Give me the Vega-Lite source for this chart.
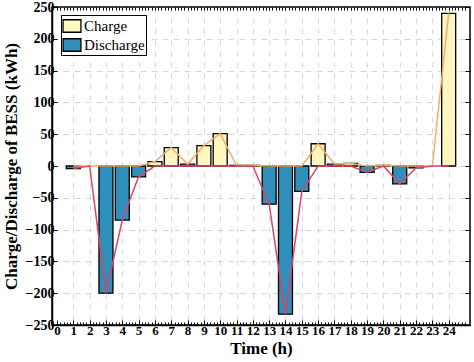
{
  "$schema": "https://vega.github.io/schema/vega-lite/v6.json",
  "width": 418,
  "height": 318,
  "autosize": {"type": "none"},
  "padding": {"left": 52, "top": 7, "right": 4, "bottom": 37},
  "background": "white",
  "config": {
    "view": {"stroke": "black", "strokeWidth": 1.5},
    "font": "Liberation Serif"
  },
  "data": {
    "values": [
      {"hour": 1, "Charge": 0, "Discharge": -4},
      {"hour": 2, "Charge": 0, "Discharge": 0},
      {"hour": 3, "Charge": 0, "Discharge": -200},
      {"hour": 4, "Charge": 0, "Discharge": -85},
      {"hour": 5, "Charge": 0, "Discharge": -17},
      {"hour": 6, "Charge": 7, "Discharge": 0},
      {"hour": 7, "Charge": 29, "Discharge": 0},
      {"hour": 8, "Charge": 3, "Discharge": 0},
      {"hour": 9, "Charge": 32, "Discharge": 0},
      {"hour": 10, "Charge": 51, "Discharge": 0},
      {"hour": 11, "Charge": 1, "Discharge": 0},
      {"hour": 12, "Charge": 1, "Discharge": 0},
      {"hour": 13, "Charge": 0, "Discharge": -60},
      {"hour": 14, "Charge": 0, "Discharge": -233},
      {"hour": 15, "Charge": 0, "Discharge": -40},
      {"hour": 16, "Charge": 35, "Discharge": 0},
      {"hour": 17, "Charge": 3, "Discharge": 0},
      {"hour": 18, "Charge": 4, "Discharge": 0},
      {"hour": 19, "Charge": 0, "Discharge": -10},
      {"hour": 20, "Charge": 1, "Discharge": 0},
      {"hour": 21, "Charge": 0, "Discharge": -28},
      {"hour": 22, "Charge": 0, "Discharge": -3},
      {"hour": 23, "Charge": 0, "Discharge": 0},
      {"hour": 24, "Charge": 240, "Discharge": 0}
    ]
  },
  "transform": [
    {"fold": ["Charge", "Discharge"], "as": ["type", "value"]}
  ],
  "resolve": {"axis": {"x": "independent", "y": "independent"}},
  "layer": [
    {
      "transform": [{"filter": "datum.value != 0"}],
      "mark": {"type": "bar", "size": 14, "stroke": "black", "strokeWidth": 1.3},
      "encoding": {
        "x": {
          "field": "hour", "type": "quantitative",
          "scale": {"domain": [0, 25], "nice": false, "zero": false},
          "axis": {
            "orient": "bottom",
            "title": "Time (h)",
            "titleFont": "Liberation Serif", "titleFontSize": 17, "titleFontWeight": "bold", "titleColor": "black", "titlePadding": 3,
            "values": [0,1,2,3,4,5,6,7,8,9,10,11,12,13,14,15,16,17,18,19,20,21,22,23,24],
            "labelFont": "Liberation Serif", "labelFontSize": 13, "labelFontWeight": "bold", "labelColor": "black",
            "labelPadding": 4, "labelOverlap": false, "labelFlush": false,
            "tickSize": -5, "tickColor": "black", "tickWidth": 1,
            "domainColor": "black", "domainWidth": 1.5,
            "grid": true,
            "gridOpacity": {"expr": "datum.value > 0.5 ? 1 : 0"},
            "gridColor": "#cccccc", "gridDash": [5, 6], "gridWidth": 0.8
          }
        },
        "y": {
          "field": "value", "type": "quantitative",
          "scale": {"domain": [-250, 250], "nice": false},
          "axis": {
            "orient": "left",
            "title": "Charge/Discharge of BESS (kWh)",
            "titleFont": "Liberation Serif", "titleFontSize": 17, "titleFontWeight": "bold", "titleColor": "black", "titlePadding": 5,
            "values": [-250, -200, -150, -100, -50, 0, 50, 100, 150, 200, 250],
            "labelFont": "Liberation Serif", "labelFontSize": 14, "labelFontWeight": "bold", "labelColor": "black",
            "labelPadding": 3,
            "tickSize": -5, "tickColor": "black",
            "domainColor": "black", "domainWidth": 1.5,
            "grid": true,
            "gridOpacity": {"expr": "datum.value > -240 && datum.value < 240 ? 1 : 0"},
            "gridColor": "#cccccc", "gridDash": [6, 5], "gridWidth": 0.8
          }
        },
        "y2": {"datum": 0},
        "fill": {
          "field": "type", "type": "nominal",
          "scale": {"domain": ["Charge", "Discharge"], "range": ["#fff7bf", "#2f8fbb"]},
          "legend": {
            "title": null,
            "orient": "none", "legendX": 9, "legendY": 8,
            "symbolType": "M-1,-0.7H1V0.7H-1Z", "symbolSize": 320, "symbolStrokeColor": "black", "symbolStrokeWidth": 1.3,
            "symbolOpacity": 1,
            "labelFont": "Liberation Serif", "labelFontSize": 15, "labelColor": "black",
            "rowPadding": -1, "labelOffset": 2,
            "strokeColor": "black", "fillColor": "white", "padding": 1, "cornerRadius": 0
          }
        }
      }
    },
    {
      "transform": [{"filter": "datum.type == 'Charge'"}],
      "mark": {"type": "line", "color": "#f4ad6a", "strokeWidth": 1.5},
      "encoding": {
        "x": {
          "field": "hour", "type": "quantitative",
          "axis": {
            "orient": "top", "title": null, "labels": false, "grid": false, "domain": false,
            "values": [0,0.2,0.4,0.6,0.8,1,1.2,1.4,1.6,1.8,2,2.2,2.4,2.6,2.8,3,3.2,3.4,3.6,3.8,4,4.2,4.4,4.6,4.8,5,5.2,5.4,5.6,5.8,6,6.2,6.4,6.6,6.8,7,7.2,7.4,7.6,7.8,8,8.2,8.4,8.6,8.8,9,9.2,9.4,9.6,9.8,10,10.2,10.4,10.6,10.8,11,11.2,11.4,11.6,11.8,12,12.2,12.4,12.6,12.8,13,13.2,13.4,13.6,13.8,14,14.2,14.4,14.6,14.8,15,15.2,15.4,15.6,15.8,16,16.2,16.4,16.6,16.8,17,17.2,17.4,17.6,17.8,18,18.2,18.4,18.6,18.8,19,19.2,19.4,19.6,19.8,20,20.2,20.4,20.6,20.8,21,21.2,21.4,21.6,21.8,22,22.2,22.4,22.6,22.8,23,23.2,23.4,23.6,23.8,24,24.2,24.4,24.6,24.8,25],
            "tickSize": -3, "tickColor": "black", "tickWidth": 1
          }
        },
        "y": {
          "field": "value", "type": "quantitative",
          "axis": {
            "orient": "right", "title": null, "labels": false, "grid": false, "domain": false,
            "values": [-250, -200, -150, -100, -50, 0, 50, 100, 150, 200, 250],
            "tickSize": -5, "tickColor": "black"
          }
        }
      }
    },
    {
      "transform": [{"filter": "datum.type == 'Discharge'"}],
      "mark": {"type": "line", "color": "#d8456a", "strokeWidth": 1.5},
      "encoding": {
        "x": {
          "field": "hour", "type": "quantitative",
          "axis": {
            "orient": "bottom", "title": null, "labels": false, "grid": false, "domain": false,
            "values": [0,0.2,0.4,0.6,0.8,1,1.2,1.4,1.6,1.8,2,2.2,2.4,2.6,2.8,3,3.2,3.4,3.6,3.8,4,4.2,4.4,4.6,4.8,5,5.2,5.4,5.6,5.8,6,6.2,6.4,6.6,6.8,7,7.2,7.4,7.6,7.8,8,8.2,8.4,8.6,8.8,9,9.2,9.4,9.6,9.8,10,10.2,10.4,10.6,10.8,11,11.2,11.4,11.6,11.8,12,12.2,12.4,12.6,12.8,13,13.2,13.4,13.6,13.8,14,14.2,14.4,14.6,14.8,15,15.2,15.4,15.6,15.8,16,16.2,16.4,16.6,16.8,17,17.2,17.4,17.6,17.8,18,18.2,18.4,18.6,18.8,19,19.2,19.4,19.6,19.8,20,20.2,20.4,20.6,20.8,21,21.2,21.4,21.6,21.8,22,22.2,22.4,22.6,22.8,23,23.2,23.4,23.6,23.8,24,24.2,24.4,24.6,24.8,25],
            "tickSize": -3, "tickColor": "black", "tickWidth": 1
          }
        },
        "y": {"field": "value", "type": "quantitative", "axis": null}
      }
    }
  ]
}
